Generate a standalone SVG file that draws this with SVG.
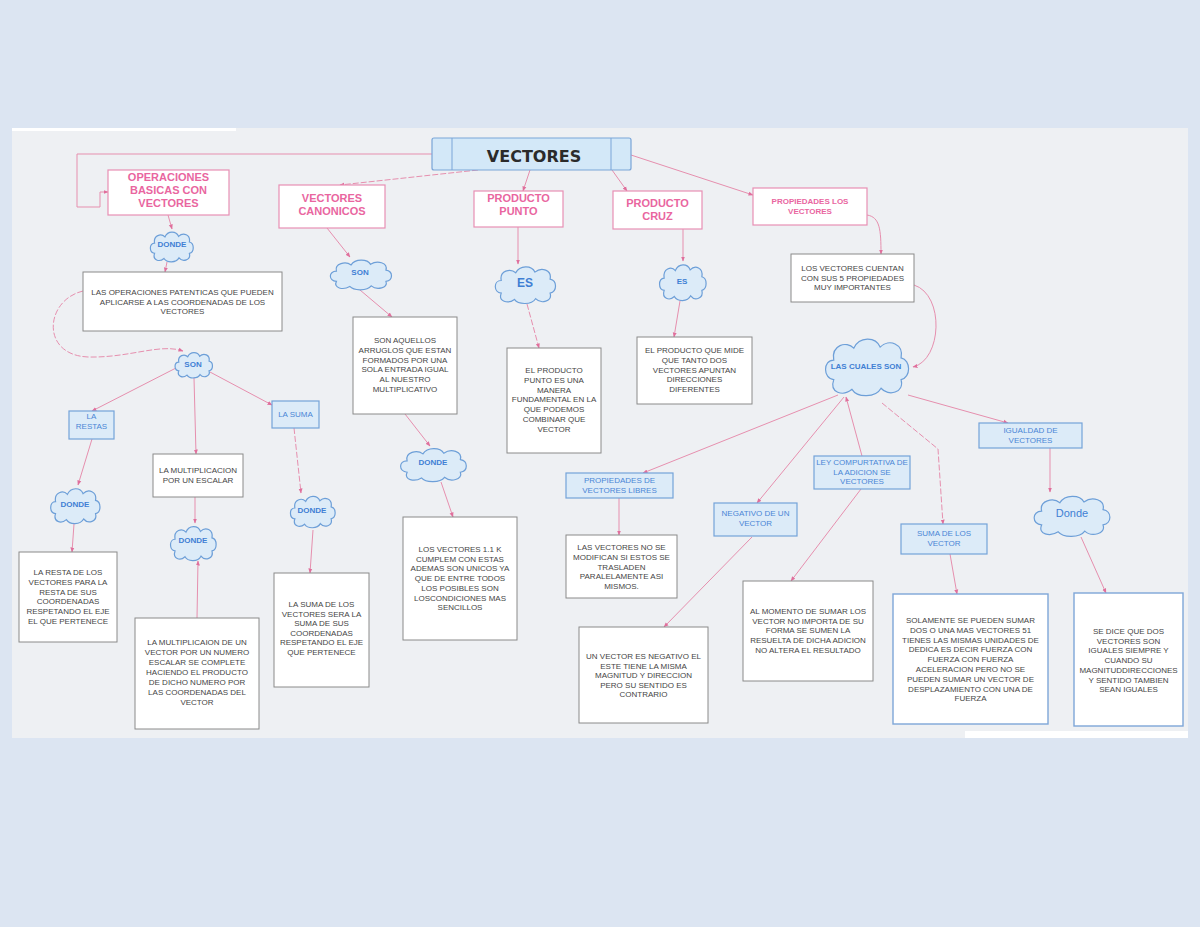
<svg xmlns="http://www.w3.org/2000/svg" width="1200" height="927" viewBox="0 0 1200 927">
<style>
.pk{fill:#fff;stroke:#e88fb4;stroke-width:1.2}
.pt{font:bold 11px "Liberation Sans",Arial,sans-serif;fill:#e9669f;text-anchor:middle}
.pts{font:bold 8px "Liberation Sans",Arial,sans-serif;fill:#e9669f;text-anchor:middle}
.gb{fill:#fff;stroke:#8a8a8a;stroke-width:1}
.bb{fill:#fff;stroke:#7ea6d8;stroke-width:1.4}
.tx{font:8px "Liberation Sans",Arial,sans-serif;fill:#454545;text-anchor:middle}
.lb{fill:#dcebf8;stroke:#74a3d9;stroke-width:1.2}
.lt{font:8px "Liberation Sans",Arial,sans-serif;fill:#4a86d6;text-anchor:middle}
.ct{font:bold 8px "Liberation Sans",Arial,sans-serif;fill:#3f7fd4;text-anchor:middle}
.ln{fill:none;stroke:#e68fae;stroke-width:1}
</style>
<defs>
<marker id="ar" viewBox="0 0 10 10" refX="9" refY="5" markerWidth="5" markerHeight="5" orient="auto-start-reverse">
<path d="M0,1 L10,5 L0,9 Z" fill="#e06f9c"/>
</marker>
<symbol id="cloud" viewBox="0 0 100 60" preserveAspectRatio="none">
<path vector-effect="non-scaling-stroke" d="M14,43 C2,42 2,25 14,25 C11,11 28,7 36,14 C42,3 60,3 65,13 C75,5 91,10 88,23 C99,25 99,41 88,43 C92,55 74,59 66,51 C60,60 40,60 34,52 C24,59 9,55 14,43 Z" fill="#dcebf8" stroke="#6d9fd8" stroke-width="1.2"/>
</symbol>
</defs>
<rect x="0" y="0" width="1200" height="927" fill="#dce5f2"/>
<rect x="12" y="128" width="1176" height="610" fill="#eef0f3"/>
<rect x="12" y="128" width="224" height="3" fill="#ffffff"/>
<rect x="965" y="731" width="223" height="7" fill="#ffffff"/>

<g id="connectors">
<path class="ln" marker-end="url(#ar)" d="M432,154 H77 V207 H100 V192 H108"/>
<path class="ln" marker-end="url(#ar)" stroke-dasharray="6 2" d="M478,170 L340,185"/>
<path class="ln" marker-end="url(#ar)" d="M530,170 L523,191"/>
<path class="ln" marker-end="url(#ar)" d="M612,170 L627,191"/>
<path class="ln" marker-end="url(#ar)" d="M631,155 L753,195"/>
<path class="ln" marker-end="url(#ar)" d="M867,215 C880,217 881,230 881,254"/>
<path class="ln" marker-end="url(#ar)" d="M914,285 C945,295 942,360 913,367"/>
<path class="ln" marker-end="url(#ar)" d="M168,215 L172,229"/>
<path class="ln" marker-end="url(#ar)" d="M167,262 L165,272"/>
<path class="ln" marker-end="url(#ar)" stroke-dasharray="6 2" d="M83,291 C45,300 40,355 88,357 C130,358 160,343 183,351"/>
<path class="ln" marker-end="url(#ar)" d="M176,368 L92,411"/>
<path class="ln" marker-end="url(#ar)" d="M194,378 L196,454"/>
<path class="ln" marker-end="url(#ar)" d="M210,372 L272,405"/>
<path class="ln" marker-end="url(#ar)" d="M92,439 L78,485"/>
<path class="ln" marker-end="url(#ar)" d="M74,524 L72,552"/>
<path class="ln" marker-end="url(#ar)" d="M195,497 L195,523"/>
<path class="ln" marker-end="url(#ar)" d="M197,618 L198,561"/>
<path class="ln" marker-end="url(#ar)" stroke-dasharray="6 2" d="M294,428 L301,493"/>
<path class="ln" marker-end="url(#ar)" d="M313,530 L310,573"/>
<path class="ln" marker-end="url(#ar)" d="M327,228 L350,257"/>
<path class="ln" marker-end="url(#ar)" d="M360,290 L392,317"/>
<path class="ln" marker-end="url(#ar)" d="M405,414 L430,446"/>
<path class="ln" marker-end="url(#ar)" d="M441,482 L453,517"/>
<path class="ln" marker-end="url(#ar)" d="M518,227 L518,264"/>
<path class="ln" marker-end="url(#ar)" stroke-dasharray="6 2" d="M527,304 L539,348"/>
<path class="ln" marker-end="url(#ar)" d="M683,229 L683,261"/>
<path class="ln" marker-end="url(#ar)" d="M680,301 L674,337"/>
<path class="ln" marker-end="url(#ar)" d="M838,395 L643,473"/>
<path class="ln" marker-end="url(#ar)" d="M619,498 L619,535"/>
<path class="ln" marker-end="url(#ar)" d="M844,397 L757,503"/>
<path class="ln" marker-end="url(#ar)" d="M752,537 L664,627"/>
<path class="ln" marker-end="url(#ar)" d="M862,456 L846,397"/>
<path class="ln" marker-end="url(#ar)" d="M861,489 L791,581"/>
<path class="ln" marker-end="url(#ar)" stroke-dasharray="6 2" d="M882,403 L938,449 L943,524"/>
<path class="ln" marker-end="url(#ar)" d="M950,554 L957,594"/>
<path class="ln" marker-end="url(#ar)" d="M908,395 L1008,423"/>
<path class="ln" marker-end="url(#ar)" d="M1050,448 L1050,492"/>
<path class="ln" marker-end="url(#ar)" d="M1081,537 L1106,593"/>
</g>

<g id="n-vectores">
<rect x="432" y="138" width="199" height="32" rx="2" fill="#d3e8f8" stroke="#7aa5d8" stroke-width="1.2"/>
<line x1="452" y1="138" x2="452" y2="170" stroke="#7aa5d8"/>
<line x1="611" y1="138" x2="611" y2="170" stroke="#7aa5d8"/>
<text x="534" y="162" style="font:bold 16px 'DejaVu Sans',sans-serif;fill:#2b2b2b" text-anchor="middle">VECTORES</text>
</g>

<g id="n-operaciones">
<rect class="pk" x="108" y="170" width="121" height="45"/>
<text class="pt" x="168.5" y="181"><tspan x="168.5">OPERACIONES</tspan><tspan x="168.5" dy="13">BASICAS CON</tspan><tspan x="168.5" dy="13">VECTORES</tspan></text>
</g>
<g id="n-canonicos">
<rect class="pk" x="279" y="185" width="106" height="43"/>
<text class="pt" x="332" y="202"><tspan x="332">VECTORES</tspan><tspan x="332" dy="13">CANONICOS</tspan></text>
</g>
<g id="n-punto">
<rect class="pk" x="474" y="191" width="89" height="36"/>
<text class="pt" x="518.5" y="202"><tspan x="518.5">PRODUCTO</tspan><tspan x="518.5" dy="13">PUNTO</tspan></text>
</g>
<g id="n-cruz">
<rect class="pk" x="613" y="191" width="89" height="38"/>
<text class="pt" x="657.5" y="207"><tspan x="657.5">PRODUCTO</tspan><tspan x="657.5" dy="13">CRUZ</tspan></text>
</g>
<g id="n-propiedades">
<rect class="pk" x="753" y="188" width="114" height="37"/>
<text class="pts" x="810" y="204"><tspan x="810">PROPIEDADES LOS</tspan><tspan x="810" dy="10">VECTORES</tspan></text>
</g>

<g id="n-donde1">
<use href="#cloud" x="148" y="229" width="47" height="34"/>
<text class="ct" x="172" y="247">DONDE</text>
</g>
<g id="n-operaciones-txt">
<rect class="gb" x="83" y="272" width="199" height="59"/>
<text class="tx" x="182.5" y="295"><tspan x="182.5">LAS OPERACIONES PATENTICAS QUE PUEDEN</tspan><tspan x="182.5" dy="9.5">APLICARSE A LAS COORDENADAS DE LOS</tspan><tspan x="182.5" dy="9.5">VECTORES</tspan></text>
</g>
<g id="n-son1">
<use href="#cloud" x="173" y="350" width="41" height="29"/>
<text class="ct" x="193" y="367">SON</text>
</g>
<g id="n-restas">
<rect class="lb" x="69" y="411" width="45" height="28"/>
<text class="lt" x="91.5" y="419"><tspan x="91.5">LA</tspan><tspan x="91.5" dy="10">RESTAS</tspan></text>
</g>
<g id="n-suma">
<rect class="lb" x="272" y="401" width="47" height="27"/>
<text class="lt" x="295.5" y="417">LA SUMA</text>
</g>
<g id="n-mult">
<rect class="gb" x="153" y="454" width="90" height="43"/>
<text class="tx" x="198" y="473"><tspan x="198">LA MULTIPLICACION</tspan><tspan x="198" dy="9.5">POR UN ESCALAR</tspan></text>
</g>
<g id="n-donde-restas">
<use href="#cloud" x="48" y="485" width="54" height="40"/>
<text class="ct" x="75" y="507">DONDE</text>
</g>
<g id="n-donde-mult">
<use href="#cloud" x="168" y="523" width="50" height="39"/>
<text class="ct" x="193" y="543">DONDE</text>
</g>
<g id="n-donde-suma">
<use href="#cloud" x="288" y="493" width="49" height="36"/>
<text class="ct" x="312" y="513">DONDE</text>
</g>
<g id="n-resta-txt">
<rect class="gb" x="19" y="552" width="98" height="90"/>
<text class="tx" x="68" y="575"><tspan x="68">LA RESTA DE LOS</tspan><tspan x="68" dy="9.8">VECTORES PARA LA</tspan><tspan x="68" dy="9.8">RESTA DE SUS</tspan><tspan x="68" dy="9.8">COORDENADAS</tspan><tspan x="68" dy="9.8">RESPETANDO EL EJE</tspan><tspan x="68" dy="9.8">EL QUE PERTENECE</tspan></text>
</g>
<g id="n-mult-txt">
<rect class="gb" x="135" y="618" width="124" height="111"/>
<text class="tx" x="197" y="645"><tspan x="197">LA  MULTIPLICAION DE UN</tspan><tspan x="197" dy="10">VECTOR POR UN NUMERO</tspan><tspan x="197" dy="10">ESCALAR SE COMPLETE</tspan><tspan x="197" dy="10">HACIENDO EL PRODUCTO</tspan><tspan x="197" dy="10">DE DICHO  NUMERO POR</tspan><tspan x="197" dy="10">LAS COORDENADAS DEL</tspan><tspan x="197" dy="10">VECTOR</tspan></text>
</g>
<g id="n-suma-txt">
<rect class="gb" x="274" y="573" width="95" height="114"/>
<text class="tx" x="321.5" y="607"><tspan x="321.5">LA SUMA DE LOS</tspan><tspan x="321.5" dy="9.6">VECTORES SERA LA</tspan><tspan x="321.5" dy="9.6">SUMA DE SUS</tspan><tspan x="321.5" dy="9.6">COORDENADAS</tspan><tspan x="321.5" dy="9.6">RESPETANDO EL EJE</tspan><tspan x="321.5" dy="9.6">QUE PERTENECE</tspan></text>
</g>

<g id="n-son2">
<use href="#cloud" x="327" y="257" width="67" height="34"/>
<text class="ct" x="360" y="275">SON</text>
</g>
<g id="n-canonicos-txt">
<rect class="gb" x="353" y="317" width="104" height="97"/>
<text class="tx" x="405" y="343"><tspan x="405">SON AQUELLOS</tspan><tspan x="405" dy="9.8">ARRUGLOS QUE ESTAN</tspan><tspan x="405" dy="9.8">FORMADOS POR UNA</tspan><tspan x="405" dy="9.8">SOLA ENTRADA IGUAL</tspan><tspan x="405" dy="9.8">AL NUESTRO</tspan><tspan x="405" dy="9.8">MULTIPLICATIVO</tspan></text>
</g>
<g id="n-donde-can">
<use href="#cloud" x="397" y="445" width="72" height="38"/>
<text class="ct" x="433" y="465">DONDE</text>
</g>
<g id="n-can-txt">
<rect class="gb" x="403" y="517" width="114" height="123"/>
<text class="tx" x="460" y="552"><tspan x="460">LOS VECTORES 1.1 K</tspan><tspan x="460" dy="9.7">CUMPLEM CON ESTAS</tspan><tspan x="460" dy="9.7">ADEMAS SON UNICOS YA</tspan><tspan x="460" dy="9.7">QUE DE ENTRE TODOS</tspan><tspan x="460" dy="9.7">LOS POSIBLES SON</tspan><tspan x="460" dy="9.7">LOSCONDICIONES MAS</tspan><tspan x="460" dy="9.7">SENCILLOS</tspan></text>
</g>

<g id="n-es1">
<use href="#cloud" x="492" y="263" width="66" height="42"/>
<text x="525" y="287" style="font:bold 12px 'Liberation Sans',Arial,sans-serif;fill:#3f7fd4" text-anchor="middle">ES</text>
</g>
<g id="n-punto-txt">
<rect class="gb" x="507" y="348" width="94" height="105"/>
<text class="tx" x="554" y="373"><tspan x="554">EL PRODUCTO</tspan><tspan x="554" dy="9.8">PUNTO ES UNA</tspan><tspan x="554" dy="9.8">MANERA</tspan><tspan x="554" dy="9.8">FUNDAMENTAL EN LA</tspan><tspan x="554" dy="9.8">QUE PODEMOS</tspan><tspan x="554" dy="9.8">COMBINAR QUE</tspan><tspan x="554" dy="9.8">VECTOR</tspan></text>
</g>
<g id="n-es2">
<use href="#cloud" x="657" y="261" width="51" height="41"/>
<text class="ct" x="682" y="284">ES</text>
</g>
<g id="n-cruz-txt">
<rect class="gb" x="637" y="337" width="115" height="67"/>
<text class="tx" x="694.5" y="353"><tspan x="694.5">EL PRODUCTO QUE MIDE</tspan><tspan x="694.5" dy="9.8">QUE TANTO DOS</tspan><tspan x="694.5" dy="9.8">VECTORES APUNTAN</tspan><tspan x="694.5" dy="9.8">DIRECCIONES</tspan><tspan x="694.5" dy="9.8">DIFERENTES</tspan></text>
</g>

<g id="n-cuentan">
<rect class="gb" x="791" y="254" width="123" height="48"/>
<text class="tx" x="852.5" y="271"><tspan x="852.5">LOS VECTORES CUENTAN</tspan><tspan x="852.5" dy="9.6">CON SUS 5 PROPIEDADES</tspan><tspan x="852.5" dy="9.6">MUY IMPORTANTES</tspan></text>
</g>
<g id="n-cuales">
<use href="#cloud" x="821" y="333" width="91" height="65"/>
<text class="ct" x="866" y="369">LAS CUALES SON</text>
</g>
<g id="n-libres">
<rect class="lb" x="566" y="473" width="107" height="25"/>
<text class="lt" x="619.5" y="483"><tspan x="619.5">PROPIEDADES DE</tspan><tspan x="619.5" dy="10">VECTORES LIBRES</tspan></text>
</g>
<g id="n-libres-txt">
<rect class="gb" x="566" y="535" width="111" height="63"/>
<text class="tx" x="621.5" y="550"><tspan x="621.5">LAS VECTORES NO SE</tspan><tspan x="621.5" dy="9.8">MODIFICAN SI ESTOS  SE</tspan><tspan x="621.5" dy="9.8">TRASLADEN</tspan><tspan x="621.5" dy="9.8">PARALELAMENTE ASI</tspan><tspan x="621.5" dy="9.8">MISMOS.</tspan></text>
</g>
<g id="n-negativo">
<rect class="lb" x="714" y="503" width="83" height="33"/>
<text class="lt" x="755.5" y="516"><tspan x="755.5">NEGATIVO DE UN</tspan><tspan x="755.5" dy="10">VECTOR</tspan></text>
</g>
<g id="n-negativo-txt">
<rect class="gb" x="579" y="627" width="129" height="96"/>
<text class="tx" x="643.5" y="659"><tspan x="643.5">UN VECTOR ES NEGATIVO EL</tspan><tspan x="643.5" dy="9.5">ESTE TIENE LA MISMA</tspan><tspan x="643.5" dy="9.5">MAGNITUD Y DIRECCION</tspan><tspan x="643.5" dy="9.5">PERO SU SENTIDO ES</tspan><tspan x="643.5" dy="9.5">CONTRARIO</tspan></text>
</g>
<g id="n-ley">
<rect class="lb" x="814" y="456" width="96" height="33"/>
<text class="lt" x="862" y="465"><tspan x="862">LEY COMPURTATIVA DE</tspan><tspan x="862" dy="9.6">LA ADICION SE</tspan><tspan x="862" dy="9.6">VECTORES</tspan></text>
</g>
<g id="n-ley-txt">
<rect class="gb" x="743" y="581" width="130" height="100"/>
<text class="tx" x="808" y="614"><tspan x="808">AL MOMENTO DE SUMAR LOS</tspan><tspan x="808" dy="9.7">VECTOR NO IMPORTA DE SU</tspan><tspan x="808" dy="9.7">FORMA SE  SUMEN LA</tspan><tspan x="808" dy="9.7">RESUELTA DE DICHA ADICION</tspan><tspan x="808" dy="9.7">NO ALTERA EL RESULTADO</tspan></text>
</g>
<g id="n-sumavec">
<rect class="lb" x="901" y="524" width="86" height="30"/>
<text class="lt" x="944" y="536"><tspan x="944">SUMA DE LOS</tspan><tspan x="944" dy="10">VECTOR</tspan></text>
</g>
<g id="n-sumavec-txt">
<rect class="bb" x="893" y="594" width="155" height="130"/>
<text class="tx" x="970.5" y="623"><tspan x="970.5">SOLAMENTE SE PUEDEN SUMAR</tspan><tspan x="970.5" dy="9.8">DOS O UNA MAS VECTORES 51</tspan><tspan x="970.5" dy="9.8">TIENES LAS MISMAS UNIDADES DE</tspan><tspan x="970.5" dy="9.8">DEDICA ES DECIR FUERZA CON</tspan><tspan x="970.5" dy="9.8">FUERZA CON FUERZA</tspan><tspan x="970.5" dy="9.8">ACELERACION PERO NO SE</tspan><tspan x="970.5" dy="9.8">PUEDEN  SUMAR UN VECTOR DE</tspan><tspan x="970.5" dy="9.8">DESPLAZAMIENTO CON UNA DE</tspan><tspan x="970.5" dy="9.8">FUERZA</tspan></text>
</g>
<g id="n-igualdad">
<rect class="lb" x="979" y="423" width="103" height="25"/>
<text class="lt" x="1030.5" y="433"><tspan x="1030.5">IGUALDAD DE</tspan><tspan x="1030.5" dy="10">VECTORES</tspan></text>
</g>
<g id="n-donde-ig">
<use href="#cloud" x="1030" y="492" width="83" height="46"/>
<text x="1072" y="517" style="font:11px 'Liberation Sans',Arial,sans-serif;fill:#3f7fd4" text-anchor="middle">Donde</text>
</g>
<g id="n-igualdad-txt">
<rect class="bb" x="1074" y="593" width="109" height="133"/>
<text class="tx" x="1128.5" y="634"><tspan x="1128.5">SE DICE QUE DOS</tspan><tspan x="1128.5" dy="9.7">VECTORES SON</tspan><tspan x="1128.5" dy="9.7">IGUALES SIEMPRE Y</tspan><tspan x="1128.5" dy="9.7">CUANDO SU</tspan><tspan x="1128.5" dy="9.7">MAGNITUDDIRECCIONES</tspan><tspan x="1128.5" dy="9.7">Y SENTIDO TAMBIEN</tspan><tspan x="1128.5" dy="9.7">SEAN IGUALES</tspan></text>
</g>
</svg>
